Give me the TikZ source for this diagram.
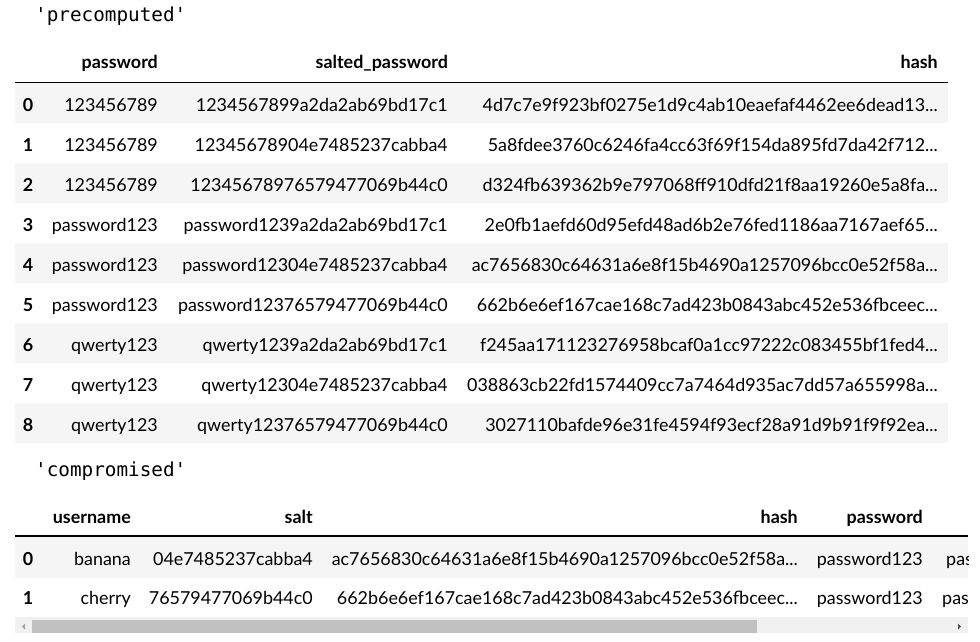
\documentclass[tikz,border=0pt]{standalone}
\usepackage{fontspec}
\setmainfont{Lato}
\setmonofont{DejaVu Sans Mono}
\definecolor{rowbg}{HTML}{F5F5F5}
\definecolor{track}{HTML}{F1F1F1}
\definecolor{thumb}{HTML}{C1C1C1}
\definecolor{arrowlight}{HTML}{A3A3A3}
\definecolor{arrowdark}{HTML}{505050}
\newcommand{\trdots}{...}
\tikzset{
  cell/.style={inner sep=0pt, anchor=base east, text=black, font=\fontsize{17.9}{20}\selectfont},
  hdr/.style={cell, font=\fontsize{17.9}{20}\selectfont\bfseries},
  idx/.style={hdr, anchor=base},
  ttl/.style={inner sep=0pt, anchor=base west, text=black, font=\fontsize{19.3}{20}\selectfont\ttfamily},
  band/.style={fill=rowbg, draw=none},
}
\begin{document}
\begin{tikzpicture}[x=1pt,y=-1pt]
\useasboundingbox[fill=white] (0,0) rectangle (980,642);
% ---------- precomputed ----------
\node[ttl] (t1) at (35,22) {'precomputed'};
\foreach \k in {0,1,2,3,4} {
  \fill[band] (15,{83.3+80*\k}) rectangle (948,{123.1+80*\k});
}
\draw[line width=1.3pt] (15,82.6) -- (948,82.6);
\node[hdr] (h1a) at (158,69) {password};
\node[hdr] (h1b) at (448,69) {salted\_password};
\node[hdr] (h1c) at (938,69) {hash};
\foreach \i/\a/\b/\c in {
 0/123456789/1234567899a2da2ab69bd17c1/4d7c7e9f923bf0275e1d9c4ab10eaefaf4462ee6dead13\trdots,
 1/123456789/12345678904e7485237cabba4/5a8fdee3760c6246fa4cc63f69f154da895fd7da42f712\trdots,
 2/123456789/12345678976579477069b44c0/d324fb639362b9e797068ff910dfd21f8aa19260e5a8fa\trdots,
 3/password123/password1239a2da2ab69bd17c1/2e0fb1aefd60d95efd48ad6b2e76fed1186aa7167aef65\trdots,
 4/password123/password12304e7485237cabba4/ac7656830c64631a6e8f15b4690a1257096bcc0e52f58a\trdots,
 5/password123/password12376579477069b44c0/662b6e6ef167cae168c7ad423b0843abc452e536fbceec\trdots,
 6/qwerty123/qwerty1239a2da2ab69bd17c1/f245aa171123276958bcaf0a1cc97222c083455bf1fed4\trdots,
 7/qwerty123/qwerty12304e7485237cabba4/038863cb22fd1574409cc7a7464d935ac7dd57a655998a\trdots,
 8/qwerty123/qwerty12376579477069b44c0/3027110bafde96e31fe4594f93ecf28a91d9b91f9f92ea\trdots} {
  \node[idx] (p\i) at (28,{111+40*\i}) {\i};
  \node[cell] (p\i a) at (158,{111+40*\i}) {\a};
  \node[cell] (p\i b) at (448,{111+40*\i}) {\b};
  \node[cell] (p\i c) at (938,{111+40*\i}) {\c};
}
% ---------- compromised ----------
\node[ttl] (t2) at (35,476) {'compromised'};
\begin{scope}
\clip (0,490) rectangle (968,642);
\fill[band] (15,537.3) rectangle (968,577.7);
\draw[line width=2pt] (15,536.3) -- (968,536.3);
\node[hdr] (h2a) at (131,523) {username};
\node[hdr] (h2b) at (313,523) {salt};
\node[hdr] (h2c) at (798,523) {hash};
\node[hdr] (h2d) at (923,523) {password};
\node[idx] (c0) at (28,565) {0};
\node[cell] (c0a) at (131,565) {banana};
\node[cell] (c0b) at (313,565) {04e7485237cabba4};
\node[cell] (c0c) at (798,565) {ac7656830c64631a6e8f15b4690a1257096bcc0e52f58a\trdots};
\node[cell] (c0d) at (923,565) {password123};
\node[cell, anchor=base west] (c0e) at (946,565) {password123};
\node[idx] (c1) at (28,604) {1};
\node[cell] (c1a) at (131,604) {cherry};
\node[cell] (c1b) at (313,604) {76579477069b44c0};
\node[cell] (c1c) at (798,604) {662b6e6ef167cae168c7ad423b0843abc452e536fbceec\trdots};
\node[cell] (c1d) at (923,604) {password123};
\node[cell, anchor=base west] (c1e) at (942,604) {password123};
\end{scope}
% scrollbar
\fill[track] (15,617.3) rectangle (968,633.3);
\fill[thumb] (32,620) rectangle (757,632.6);
\fill[arrowlight] (22,626.7) -- (25,623.7) -- (25,629.7) -- cycle;
\fill[arrowdark] (961,626.7) -- (958,623.7) -- (958,629.7) -- cycle;
\end{tikzpicture}
\end{document}
